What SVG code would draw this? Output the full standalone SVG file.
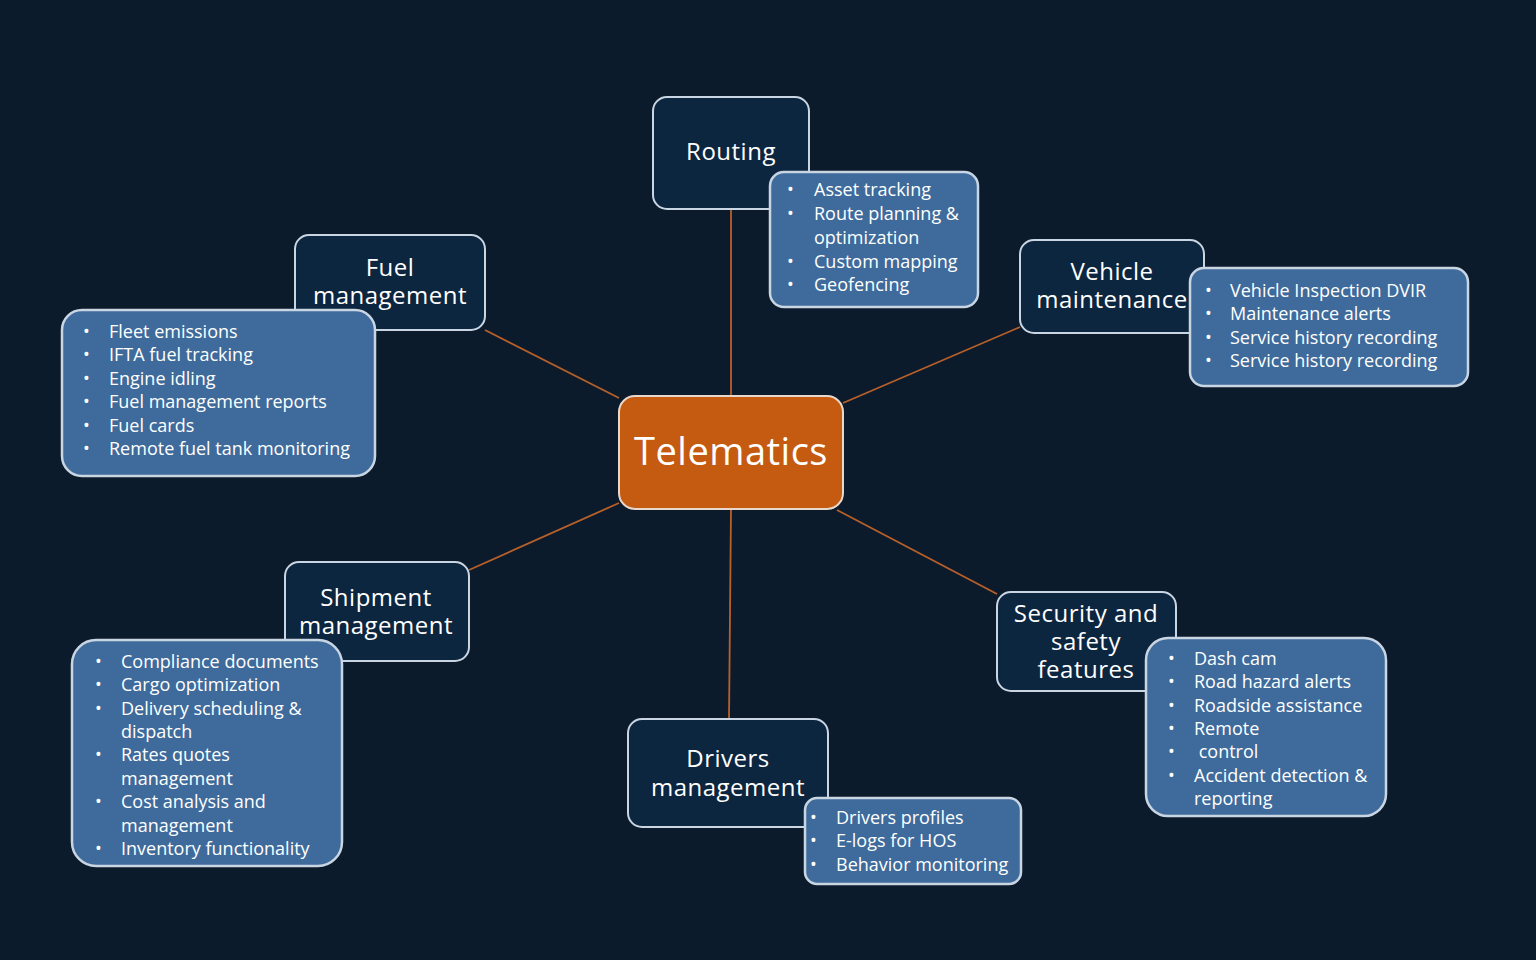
<svg xmlns="http://www.w3.org/2000/svg" width="1536" height="960" viewBox="0 0 1536 960">
<style>
.n{fill:#0d2640;stroke:#c9d5e2;stroke-width:2}
.l{fill:#3e6b9b;stroke:#c9d5e2;stroke-width:2.5}
.t{font-family:"Open Sans","Noto Sans",sans-serif;font-size:24px;fill:#ffffff;text-anchor:middle;letter-spacing:0.5px}
.i{font-family:"Open Sans","Noto Sans",sans-serif;font-size:18px;fill:#ffffff}
.c{stroke:#b8602a;stroke-width:1.8;fill:none}
</style>
<rect width="1536" height="960" fill="#0c1b2b"/>
<g id="connectors">
<line class="c" x1="731" y1="209" x2="731" y2="396"/>
<line class="c" x1="485" y1="330" x2="619" y2="398"/>
<line class="c" x1="843" y1="403" x2="1020" y2="327"/>
<line class="c" x1="469" y1="570" x2="619" y2="503"/>
<line class="c" x1="731" y1="509" x2="729" y2="719"/>
<line class="c" x1="837" y1="510" x2="997" y2="594"/>
</g>
<g id="center"><rect x="619" y="396" width="224" height="113" rx="16" fill="#c55a11" stroke="#e8d8cc" stroke-width="2"/><text x="731" y="465" class="t" style="font-size:38px">Telematics</text></g>
<g id="routing"><rect class="n" x="653" y="97" width="156" height="112" rx="14"/><text class="t" x="731" y="160">Routing</text></g>
<g id="routing-list"><rect class="l" x="770" y="172" width="208" height="135" rx="14"/>
<text class="i"><tspan x="787" y="196">•</tspan><tspan x="814" y="196">Asset tracking</tspan><tspan x="787" y="220">•</tspan><tspan x="814" y="220">Route planning &amp;</tspan><tspan x="814" y="244">optimization</tspan><tspan x="787" y="268">•</tspan><tspan x="814" y="268">Custom mapping</tspan><tspan x="787" y="291">•</tspan><tspan x="814" y="291">Geofencing</tspan></text></g>
<g id="fuel"><rect class="n" x="295" y="235" width="190" height="95" rx="14"/><text class="t" x="390" y="276">Fuel</text><text class="t" x="390" y="304">management</text></g>
<g id="fuel-list"><rect class="l" x="62" y="310" width="313" height="166" rx="20"/>
<text class="i"><tspan x="83" y="338">•</tspan><tspan x="109" y="338">Fleet emissions</tspan><tspan x="83" y="361">•</tspan><tspan x="109" y="361">IFTA fuel tracking</tspan><tspan x="83" y="385">•</tspan><tspan x="109" y="385">Engine idling</tspan><tspan x="83" y="408">•</tspan><tspan x="109" y="408">Fuel management reports</tspan><tspan x="83" y="432">•</tspan><tspan x="109" y="432">Fuel cards</tspan><tspan x="83" y="455">•</tspan><tspan x="109" y="455">Remote fuel tank monitoring</tspan></text></g>
<g id="vehicle"><rect class="n" x="1020" y="240" width="184" height="93" rx="14"/><text class="t" x="1112" y="280">Vehicle</text><text class="t" x="1112" y="308">maintenance</text></g>
<g id="vehicle-list"><rect class="l" x="1190" y="268" width="278" height="118" rx="14"/>
<text class="i"><tspan x="1205" y="297">•</tspan><tspan x="1230" y="297">Vehicle Inspection DVIR</tspan><tspan x="1205" y="320">•</tspan><tspan x="1230" y="320">Maintenance alerts</tspan><tspan x="1205" y="344">•</tspan><tspan x="1230" y="344">Service history recording</tspan><tspan x="1205" y="367">•</tspan><tspan x="1230" y="367">Service history recording</tspan></text></g>
<g id="shipment"><rect class="n" x="285" y="562" width="184" height="99" rx="14"/><text class="t" x="376" y="606">Shipment</text><text class="t" x="376" y="634">management</text></g>
<g id="shipment-list"><rect class="l" x="72" y="640" width="270" height="226" rx="24"/>
<text class="i"><tspan x="95" y="668">•</tspan><tspan x="121" y="668">Compliance documents</tspan><tspan x="95" y="691">•</tspan><tspan x="121" y="691">Cargo optimization</tspan><tspan x="95" y="715">•</tspan><tspan x="121" y="715">Delivery scheduling &amp;</tspan><tspan x="121" y="738">dispatch</tspan><tspan x="95" y="761">•</tspan><tspan x="121" y="761">Rates quotes</tspan><tspan x="121" y="785">management</tspan><tspan x="95" y="808">•</tspan><tspan x="121" y="808">Cost analysis and</tspan><tspan x="121" y="832">management</tspan><tspan x="95" y="855">•</tspan><tspan x="121" y="855">Inventory functionality</tspan></text></g>
<g id="security"><rect class="n" x="997" y="592" width="179" height="99" rx="14"/><text class="t" x="1086" y="622">Security and</text><text class="t" x="1086" y="650">safety</text><text class="t" x="1086" y="678">features</text></g>
<g id="security-list"><rect class="l" x="1146" y="638" width="240" height="178" rx="22"/>
<text class="i"><tspan x="1168" y="665">•</tspan><tspan x="1194" y="665">Dash cam</tspan><tspan x="1168" y="688">•</tspan><tspan x="1194" y="688">Road hazard alerts</tspan><tspan x="1168" y="712">•</tspan><tspan x="1194" y="712">Roadside assistance</tspan><tspan x="1168" y="735">•</tspan><tspan x="1194" y="735">Remote</tspan><tspan x="1168" y="758">•</tspan><tspan x="1194" y="758" xml:space="preserve"> control</tspan><tspan x="1168" y="782">•</tspan><tspan x="1194" y="782">Accident detection &amp;</tspan><tspan x="1194" y="805">reporting</tspan></text></g>
<g id="drivers"><rect class="n" x="628" y="719" width="200" height="108" rx="14"/><text class="t" x="728" y="767">Drivers</text><text class="t" x="728" y="796">management</text></g>
<g id="drivers-list"><rect class="l" x="805" y="798" width="216" height="86" rx="12"/>
<text class="i"><tspan x="810" y="824">•</tspan><tspan x="836" y="824">Drivers profiles</tspan><tspan x="810" y="847">•</tspan><tspan x="836" y="847">E-logs for HOS</tspan><tspan x="810" y="871">•</tspan><tspan x="836" y="871">Behavior monitoring</tspan></text></g>
</svg>
